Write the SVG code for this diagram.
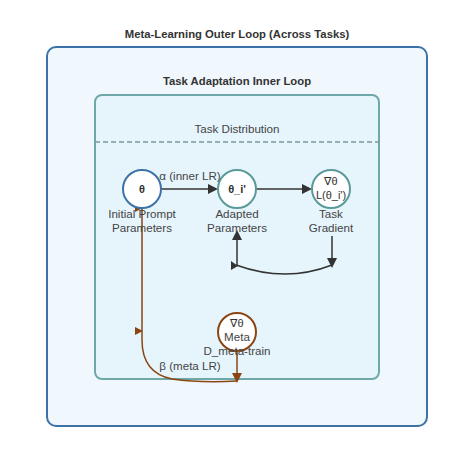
<svg xmlns="http://www.w3.org/2000/svg" width="474" height="474" viewBox="0 0 474 474">
<defs>
<style>
text{font-family:"Liberation Sans",Arial,sans-serif;fill:#333;text-anchor:middle}
.t{font-size:11.3px;font-weight:bold}
.l{font-size:11.6px;fill:#444}
.n{font-size:11px}
.dk{stroke:#333;stroke-width:1.5;fill:none}
.br{stroke:#8b4513;stroke-width:1.5;fill:none}
</style>
<marker id="ad" markerWidth="10" markerHeight="10" refX="8" refY="5" orient="auto" markerUnits="userSpaceOnUse"><path d="M0,0L10,5L0,10z" fill="#333"/></marker>
<marker id="ab" markerWidth="10" markerHeight="10" refX="8" refY="5" orient="auto" markerUnits="userSpaceOnUse"><path d="M0,0L10,5L0,10z" fill="#8b4513"/></marker>
</defs>
<rect width="474" height="474" fill="#fff"/>
<g id="outer">
<text class="t" x="237" y="38">Meta-Learning Outer Loop (Across Tasks)</text>
<rect x="47" y="47" width="380" height="379" rx="9" fill="#f0f7fd" stroke="#3d72a8" stroke-width="2"/>
<text class="t" x="237" y="85">Task Adaptation Inner Loop</text>
</g>
<g id="inner">
<rect x="95" y="95" width="284" height="284" rx="7" fill="#e6f5fc" stroke="#6fa8a8" stroke-width="2"/>
<text class="l" x="237" y="133">Task Distribution</text>
<line x1="95" y1="142" x2="379" y2="142" stroke="#7a9999" stroke-width="1.5" stroke-dasharray="5,3"/>
</g>
<g id="connectors">
<line class="dk" x1="161" y1="189" x2="216" y2="189" marker-end="url(#ad)"/>
<line class="dk" x1="256" y1="189" x2="310" y2="189" marker-end="url(#ad)"/>
<line class="dk" x1="332" y1="236" x2="332" y2="266" marker-end="url(#ad)"/>
<path class="dk" d="M332,265 Q286,283 236,265"/>
<path d="M231,261L238,266L231,270z" fill="#333"/>
<line class="dk" x1="237" y1="265" x2="237" y2="232" marker-end="url(#ad)"/>
<line class="br" x1="237" y1="351" x2="237" y2="381" marker-end="url(#ab)"/>
<path class="br" d="M237,381 Q200,383 172,379 Q142,373 142,340 L142,192" marker-end="url(#ab)"/>
<path d="M135,327L143,331L135,335z" fill="#8b4513"/>
<path d="M135,204L143,208L135,212z" fill="#8b4513"/>
</g>
<g id="n-theta">
<circle cx="142" cy="189" r="19" fill="#fff" stroke="#3d72a8" stroke-width="2"/>
<text class="n" x="142" y="193" font-weight="bold">θ</text>
<text class="l" x="142" y="218">Initial Prompt</text>
<text class="l" x="142" y="232">Parameters</text>
</g>
<g id="n-adapted">
<circle cx="237" cy="189" r="19" fill="#fff" stroke="#5a9a9a" stroke-width="2"/>
<text class="n" x="237" y="193" font-weight="bold">θ_i'</text>
<text class="l" x="237" y="218">Adapted</text>
<text class="l" x="237" y="232">Parameters</text>
</g>
<g id="n-grad">
<circle cx="331" cy="189" r="19" fill="#fff" stroke="#5a9a9a" stroke-width="2"/>
<text class="n" x="331" y="185">∇θ</text>
<text class="n" x="331" y="199">L(θ_i')</text>
<text class="l" x="331" y="218">Task</text>
<text class="l" x="331" y="232">Gradient</text>
</g>
<g id="n-meta">
<circle cx="237" cy="332" r="19" fill="#fff" stroke="#8b4513" stroke-width="2"/>
<text class="n" x="237" y="327">∇θ</text>
<text class="l" x="237" y="341">Meta</text>
<text class="l" x="237" y="355">D_meta-train</text>
</g>
<g id="edge-labels">
<text class="l" x="190" y="180">α (inner LR)</text>
<text class="l" x="190" y="370">β (meta LR)</text>
</g>
</svg>
